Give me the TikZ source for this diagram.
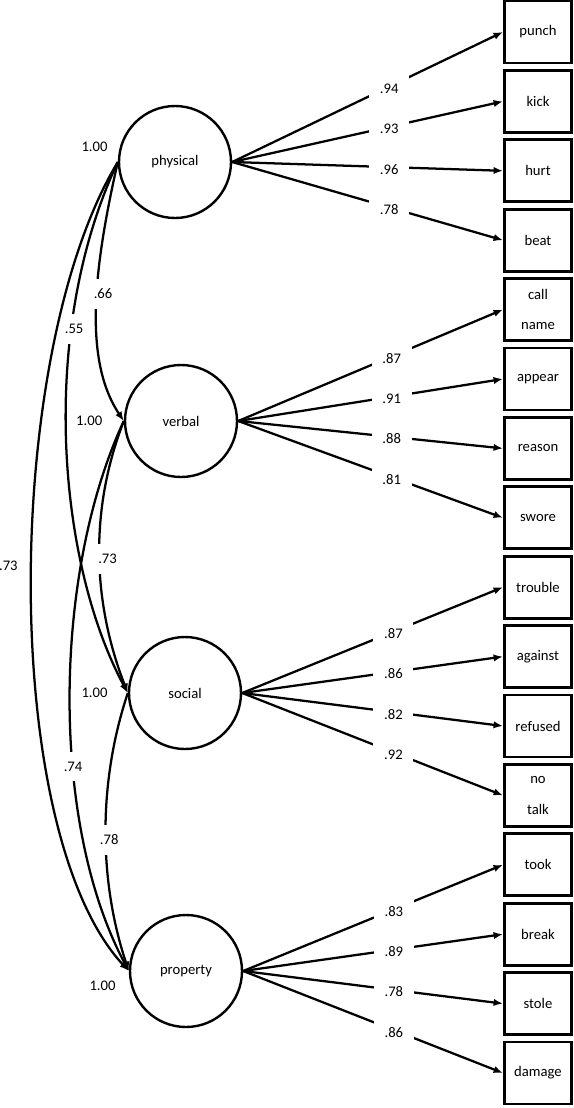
\documentclass[tikz,border=0pt]{standalone}
\usepackage{fontspec}
\setmainfont{Carlito}
\usetikzlibrary{positioning}
\usetikzlibrary{arrows.meta}

\begin{document}
\begin{tikzpicture} [
    x=0.75pt, y=0.75pt,             % one unit is one pixel of the layout
    node distance=3.45pt and 20pt,  % gap between the indicator boxes
    font=\fontsize{11}{13}\selectfont,
    ]
% -------------------------------------------------
\tikzset{
  latent/.style={draw, circle, line width=1.8pt, minimum size=84pt, inner sep=0pt},
  rect/.style={draw, rectangle, line width=2.1pt, minimum width=50.5pt, minimum height=46.5pt, inner sep=0pt, align=center},
  line/.style={draw, line width=1.7pt, -{Latex[length=7pt,width=5.5pt]}},
  est/.style={fill=white, inner xsep=8pt, inner ysep=7.5pt, yshift=-1.5pt},
  var/.style={inner sep=0pt}
}

    \useasboundingbox (0,0) rectangle (574,-1108);

    \node [latent] (phy) at (175,-162) {physical};
    \node [latent] (vrb) at (181,-421) {verbal};
    \node [latent] (soc) at (185,-693) {social};
    \node [latent] (prp) at (186,-971) {property};

    \node [var, above left=7.5pt and 7.5pt of phy.west] (vphy) {1.00};
    \node [var, left=16pt of vrb.west] (vvrb) {1.00};
    \node [var, left=15pt of soc.west] (vsoc) {1.00};
    \node [var, below left=7.5pt and 9.75pt of prp.west] (vprp) {1.00};

    \node [rect] (pun) at (538,-32) {punch};
    \node [rect, below=of pun] (kck) {kick};
    \node [rect, below=of kck] (hrt) {hurt};
    \node [rect, below=of hrt] (bet) {beat};
    \node [rect, below=of bet] (cal) {call\\[10pt]name};
    \node [rect, below=of cal] (apr) {appear};
    \node [rect, below=of apr] (rsn) {reason};
    \node [rect, below=of rsn] (swr) {swore};
    \node [rect, below=of swr] (trb) {trouble};
    \node [rect, below=of trb] (agn) {against};
    \node [rect, below=of agn] (ref) {refused};
    \node [rect, below=of ref] (ntk) {no\\[10pt]talk};
    \node [rect, below=of ntk] (tok) {took};
    \node [rect, below=of tok] (brk) {break};
    \node [rect, below=of brk] (stl) {stole};
    \node [rect, below=of stl] (dmg) {damage};

    % factor correlations
    \path [line] (phy.west) .. controls +(-25,-110) and +(-40,60) .. (vrb.west) node [est, pos=0.43, xshift=4.5pt] {.66};
    \path [line] (phy.west) .. controls +(-80,-170) and +(-70,130) .. (soc.west) node [est, pos=0.3, xshift=2pt] {.55};
    \path [line] (phy.west) .. controls +(-115,-190) and +(-130,140) .. (prp.west) node [var, pos=0.48, left=9.5pt] {.73};
    \path [line] (vrb.west) .. controls +(-35,-90) and +(-35,90) .. (soc.west) node [est, pos=0.5, xshift=6pt] {.73};
    \path [line] (vrb.west) .. controls +(-70,-150) and +(-80,150) .. (prp.west) node [est, pos=0.615] {.74};
    \path [line] (soc.west) .. controls +(-30,-90) and +(-30,90) .. (prp.west) node [est, pos=0.52, xshift=2.5pt] {.78};

    % loadings
    \path [line] (phy.east) -- (pun.west) node [est, pos=0.58] {.94};
    \path [line] (phy.east) -- (kck.west) node [est, pos=0.58] {.93};
    \path [line] (phy.east) -- (hrt.west) node [est, pos=0.58] {.96};
    \path [line] (phy.east) -- (bet.west) node [est, pos=0.58] {.78};

    \path [line] (vrb.east) -- (cal.west) node [est, pos=0.58] {.87};
    \path [line] (vrb.east) -- (apr.west) node [est, pos=0.58] {.91};
    \path [line] (vrb.east) -- (rsn.west) node [est, pos=0.58] {.88};
    \path [line] (vrb.east) -- (swr.west) node [est, pos=0.58] {.81};

    \path [line] (soc.east) -- (trb.west) node [est, pos=0.58] {.87};
    \path [line] (soc.east) -- (agn.west) node [est, pos=0.58] {.86};
    \path [line] (soc.east) -- (ref.west) node [est, pos=0.58] {.82};
    \path [line] (soc.east) -- (ntk.west) node [est, pos=0.58] {.92};

    \path [line] (prp.east) -- (tok.west) node [est, pos=0.58] {.83};
    \path [line] (prp.east) -- (brk.west) node [est, pos=0.58] {.89};
    \path [line] (prp.east) -- (stl.west) node [est, pos=0.58] {.78};
    \path [line] (prp.east) -- (dmg.west) node [est, pos=0.58] {.86};

\end{tikzpicture}
\end{document}
